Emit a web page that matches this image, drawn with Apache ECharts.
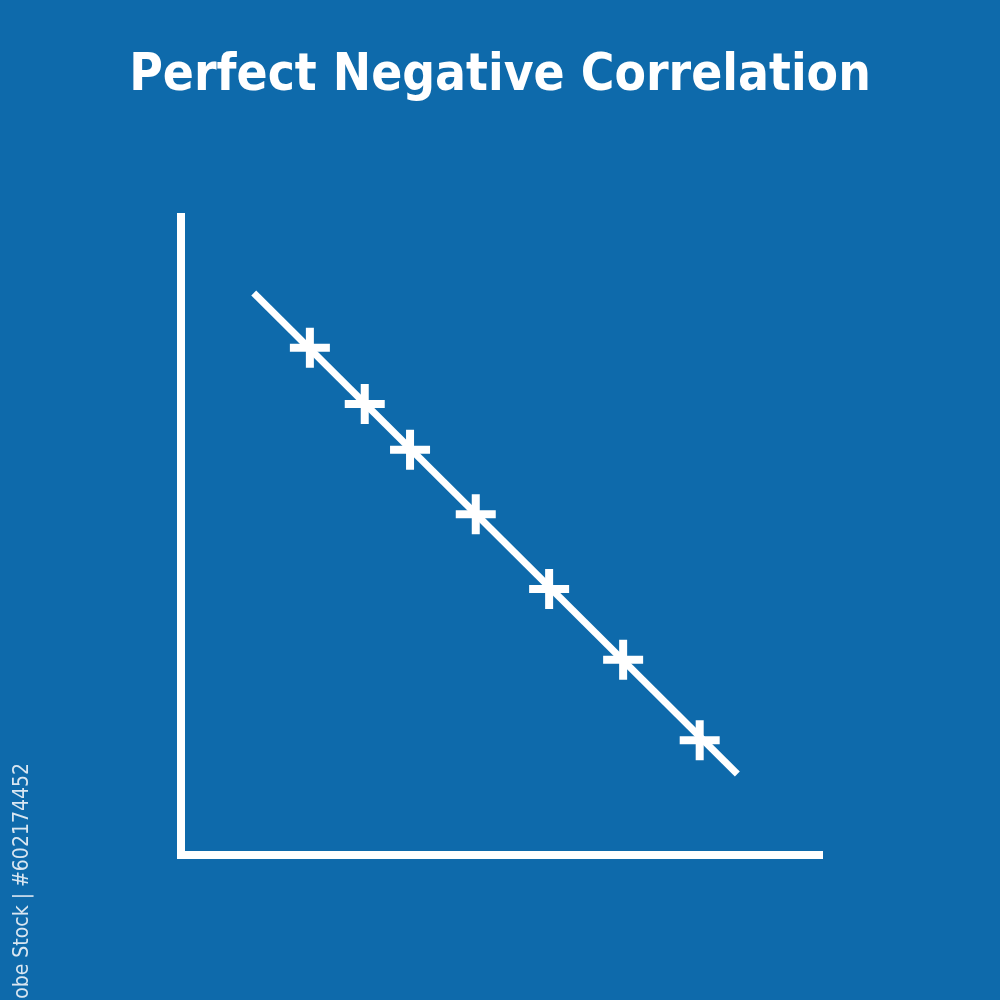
<!DOCTYPE html>
<html>
<head>
<meta charset="utf-8">
<script src="https://cdn.jsdelivr.net/npm/echarts@6/dist/echarts.min.js"></script>
<style>
html,body{margin:0;padding:0;background:#0e6aab;}
#chart{width:1000px;height:1000px;}
</style>
</head>
<body>
<div id="chart"></div>
<script>
// Data (axis units 0-100, no visible ticks)
var titleText = 'Perfect Negative Correlation';
var trendX = [11.4, 87.2];
var trendY = [88.1, 12.7];
var pointsX = [20.2, 28.8, 35.9, 46.2, 57.7, 69.3, 81.3];
var pointsY = [79.5, 70.7, 63.5, 53.4, 41.7, 30.6, 18.0];
var creditText = 'Adobe Stock | #602174452';

var trendData = trendX.map(function (x, i) { return [x, trendY[i]]; });
var pointData = pointsX.map(function (x, i) { return [x, pointsY[i]]; });

var plusPath = 'path://M16,0 H24 V16 H40 V24 H24 V40 H16 V24 H0 V16 H16 Z';

var chart = echarts.init(document.getElementById('chart'), null, {renderer: 'canvas'});
chart.setOption({
  backgroundColor: '#0e6aab',
  animation: false,
  title: {
    text: titleText,
    left: 'center',
    top: 46,
    textStyle: {
      color: '#ffffff',
      fontFamily: 'DejaVu Sans Condensed',
      fontWeight: 'bold',
      fontSize: 51
    }
  },
  grid: {left: 181, top: 217, right: 181, bottom: 145},
  xAxis: {
    type: 'value', min: 0, max: 100,
    axisLine: {show: true, onZero: false, lineStyle: {color: '#ffffff', width: 8, cap: 'square'}},
    axisTick: {show: false}, axisLabel: {show: false}, splitLine: {show: false}
  },
  yAxis: {
    type: 'value', min: 0, max: 100,
    axisLine: {show: true, onZero: false, lineStyle: {color: '#ffffff', width: 8, cap: 'square'}},
    axisTick: {show: false}, axisLabel: {show: false}, splitLine: {show: false}
  },
  graphic: [{
    type: 'text',
    left: 12,
    top: 763,
    rotation: Math.PI / 2,
    style: {
      text: creditText,
      fill: 'rgba(240,244,248,0.9)',
      font: '21px "DejaVu Sans Condensed"'
    }
  }],
  series: [{
    type: 'line',
    data: trendData,
    showSymbol: false,
    symbol: 'none',
    lineStyle: {color: '#ffffff', width: 7, cap: 'butt'},
    z: 2
  }, {
    type: 'scatter',
    data: pointData,
    symbol: plusPath,
    symbolSize: [40, 40],
    itemStyle: {color: '#ffffff', opacity: 1},
    z: 3
  }]
});
</script>
</body>
</html>
